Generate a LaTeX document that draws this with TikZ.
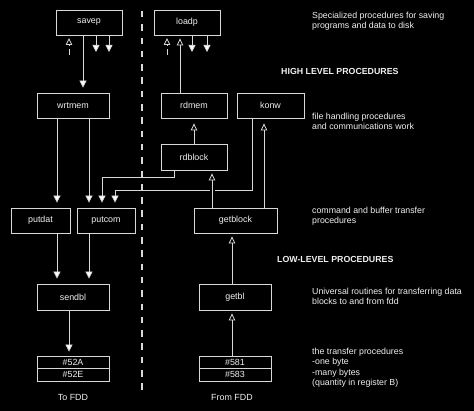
\documentclass[tikz,border=0pt]{standalone}
\usepackage{fontspec}
\setmainfont{Liberation Sans}
\usetikzlibrary{arrows.meta,calc}
\definecolor{ln}{HTML}{D8D8D8}
\definecolor{tx}{HTML}{F0F0F0}
\tikzset{
  box/.style={draw=ln, line width=0.8pt, minimum width=#1, minimum height=25pt, inner sep=0pt, text=tx, font=\fontsize{8.9}{10.5}\selectfont},
  box/.default=66pt,
  reg/.style={draw=ln, line width=0.8pt, minimum width=72pt, minimum height=12.5pt, inner sep=0pt, text=tx, font=\fontsize{8.9}{10.5}\selectfont},
  conn/.style={draw=ln, line width=0.8pt},
  farrow/.style={conn, -{Triangle[width=7pt,length=7pt,fill=white]}},
  harrow/.style={conn, -{Triangle[open,width=6.5pt,length=7pt]}},
  note/.style={text=tx, anchor=north west, align=left, inner sep=0pt, font=\fontsize{8.8}{10.5}\selectfont},
  head/.style={text=tx, anchor=north west, inner sep=0pt, font=\bfseries\fontsize{8.8}{10.5}\selectfont},
  divider/.style={draw=ln, line width=1.3pt, dash pattern=on 6.5pt off 6.8pt},
}
\begin{document}
\begin{tikzpicture}[x=1pt,y=-1pt]
\fill[black] (0,0) rectangle (474,411);
\useasboundingbox (0,0) rectangle (474,411);

% divider
\coordinate (dtop) at (142,11);
\coordinate (dbot) at (142,396);
\draw[divider] (dtop) -- (dbot);

% nodes
\node[box] (savep) at (89,22.5) {savep};
\node[box] (loadp) at (187,22.5) {loadp};
\node[box=72pt] (wrtmem) at (73,105.5) {wrtmem};
\node[box] (rdmem) at (194,105.5) {rdmem};
\node[box=67pt] (konw) at (270.5,105.5) {konw};
\node[box, minimum height=26pt] (rdblock) at (194,157) {rdblock};
\node[box=59pt] (putdat) at (40.5,220.5) {putdat};
\node[box=58pt] (putcom) at (106,220.5) {putcom};
\node[box=83pt] (getblock) at (235.5,220.5) {getblock};
\node[box=72pt, minimum height=26pt] (sendbl) at (73,297) {sendbl};
\node[box=72pt, minimum height=26pt] (getbl) at (235,297) {getbl};
\node[reg] (p52A) at (73,362.25) {\#52A};
\node[reg] (p52E) at (73,374.75) {\#52E};
\node[reg] (p581) at (235,362.25) {\#581};
\node[reg] (p583) at (235,374.75) {\#583};

\node[text=tx, font=\fontsize{8.9}{10.5}\selectfont] (tofdd) at (73,397) {To FDD};
\node[text=tx, font=\fontsize{8.9}{10.5}\selectfont] (fromfdd) at (232,397) {From FDD};

% notes
\node[note] (n1) at (312,11.5) {Specialized procedures for saving\\programs and data to disk};
\node[head] (h1) at (281,68.5) {HIGH LEVEL PROCEDURES};
\node[note] (n2) at (312,112.5) {file handling procedures\\and communications work};
\node[note] (n3) at (312,206.5) {command and buffer transfer\\procedures};
\node[head] (h2) at (277,256.5) {LOW-LEVEL PROCEDURES};
\node[note] (n4) at (312,287.5) {Universal routines for transferring data\\blocks to and from fdd};
\node[note] (n5) at (312,347.5) {the transfer procedures\\-one byte\\-many bytes\\(quantity in register B)};

% stubs under savep
\coordinate (s1a) at (69,49); \coordinate (s1b) at (69,55);
\draw[conn] (s1a) -- (s1b);
\draw[harrow] (69,45.5) -- (69,38);
\draw[farrow] (savep.south -| 96,0) -- (96,52);
\draw[farrow] (savep.south -| 109,0) -- (109,52);
% stubs under loadp
\coordinate (s2a) at (167,49); \coordinate (s2b) at (167,55);
\draw[conn] (s2a) -- (s2b);
\draw[harrow] (167,45.5) -- (167,38);
\draw[farrow] (loadp.south -| 192,0) -- (192,52);
\draw[farrow] (loadp.south -| 207,0) -- (207,52);

% savep -> wrtmem
\draw[farrow, shorten >=5pt] (savep.south -| 83,0) -- (wrtmem.north -| 83,0);
% rdmem -> loadp
\draw[harrow, shorten >=3pt] (rdmem.north -| 180,0) -- (loadp.south -| 180,0);
% rdblock -> rdmem
\draw[harrow, shorten >=5pt] (rdblock.north) -- (rdmem.south);
% getblock -> konw
\draw[harrow, shorten >=5pt] (getblock.north -| 264,0) -- (konw.south -| 264,0);

% konw -> putcom
\draw[farrow, shorten >=5pt] (konw.south -| 252,0) -- (252,190) -- (115,190) -- (putcom.north -| 115,0);
% rdblock -> putcom
\draw[farrow, shorten >=5pt] (rdblock.south -| 174,0) -- (174,177) -- (102,177) -- (putcom.north -| 102,0);
% getblock -> rdblock (crossing gap)
\draw[black, line width=5pt] (212,186) -- (212,194);
\draw[harrow, shorten >=3pt] (getblock.north -| 212,0) -- (rdblock.south -| 212,0);

% wrtmem -> putdat, putcom
\draw[farrow, shorten >=5pt] (wrtmem.south -| 57,0) -- (putdat.north -| 57,0);
\draw[farrow, shorten >=5pt] (wrtmem.south -| 89,0) -- (putcom.north -| 89,0);
% putdat, putcom -> sendbl
\draw[farrow, shorten >=5pt] (putdat.south -| 57,0) -- (sendbl.north -| 57,0);
\draw[farrow, shorten >=5pt] (putcom.south -| 89,0) -- (sendbl.north -| 89,0);
% sendbl -> 52A
\draw[farrow, shorten >=4pt] (sendbl.south -| 69,0) -- (p52A.north -| 69,0);
% getbl -> getblock
\draw[harrow, shorten >=3pt] (getbl.north -| 232,0) -- (getblock.south -| 232,0);
% 581 -> getbl
\draw[harrow, shorten >=3pt] (p581.north -| 232,0) -- (getbl.south -| 232,0);
\end{tikzpicture}
\end{document}
